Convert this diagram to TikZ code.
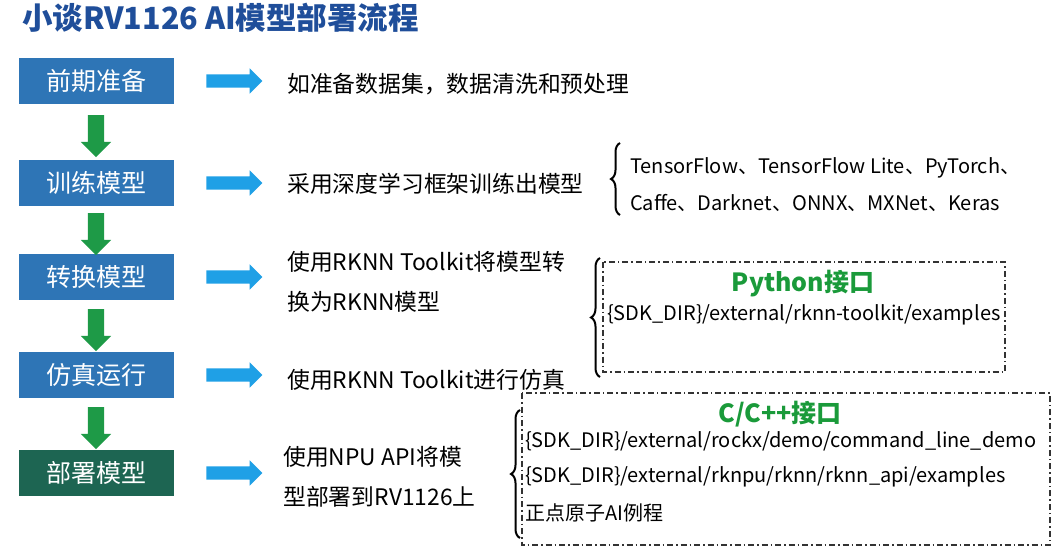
\documentclass[tikz,border=0pt]{standalone}
\usepackage{fontspec}
\setmainfont{Noto Sans CJK SC}
\usetikzlibrary{shapes.arrows,decorations.pathreplacing,calc}
\definecolor{tblue}{HTML}{1F4E9A}
\definecolor{bblue}{HTML}{2E75B6}
\definecolor{dteal}{HTML}{1D6552}
\definecolor{garrow}{HTML}{1E9A47}
\definecolor{larrow}{HTML}{1FA0E6}
\definecolor{gtext}{HTML}{1A9A3A}
\tikzset{
 stepbox/.style={draw=none,fill=bblue,minimum width=155pt,minimum height=46pt,text=white,font=\fontsize{25}{25}\selectfont,inner sep=0pt},
 rarrow/.style={single arrow,fill=larrow,draw=none,text height=13pt,text depth=0pt,single arrow head extend=6pt,minimum height=56pt,inner sep=0pt},
 darrow/.style={single arrow,fill=garrow,draw=none,rotate=-90,text height=16pt,text depth=0pt,single arrow head extend=7pt,minimum height=42pt,inner sep=0pt},
 desc/.style={anchor=west,font=\fontsize{22.8}{40}\selectfont,align=left,inner sep=0pt},
 small/.style={anchor=west,font=\fontsize{20}{20}\selectfont,inner sep=0pt},
 brace/.style={draw=black,line width=2pt,decorate,decoration={brace,amplitude=9pt}},
 gt/.style={text=gtext,font=\fontsize{25}{25}\selectfont\bfseries,inner sep=0pt},
 dbox/.style={dash pattern=on 6pt off 3pt on 1.5pt off 3pt,line width=1.2pt,black!80}
}
\begin{document}
\begin{tikzpicture}[x=1pt,y=-1pt]
\useasboundingbox (0,0) rectangle (1062,554);
\node[anchor=west,text=tblue,font=\fontsize{30.5}{30.5}\selectfont\bfseries,inner sep=0pt] (title) at (22,18) {小谈RV1126 AI模型部署流程};
\node[stepbox] (s1) at (96,81) {前期准备};
\node[stepbox] (s2) at (96,183) {训练模型};
\node[stepbox] (s3) at (96,277) {转换模型};
\node[stepbox] (s4) at (96,375) {仿真运行};
\node[stepbox,fill=dteal] (s5) at (96,473) {部署模型};
\foreach \a/\b in {s1/s2,s2/s3,s3/s4,s4/s5}{
 \node[darrow] (d\a) at ($(\a.south)!0.5!(\b.north)$) {};}
\node[rarrow] (r1) at (231,81) {};
\node[rarrow] (r2) at (231,183) {};
\node[rarrow] (r3) at (231,277) {};
\node[rarrow] (r4) at (231,375) {};
\node[rarrow] (r5) at (231,473) {};
\node[desc] (t1) at (287,84) {如准备数据集，数据清洗和预处理};
\node[desc] (t2) at (287,184) {采用深度学习框架训练出模型};
\node[desc] (t3) at (287,282) {使用RKNN Toolkit将模型转\\换为RKNN模型};
\node[desc] (t4) at (287,380) {使用RKNN Toolkit进行仿真};
\node[desc] (t5) at (283,477) {使用NPU API将模\\型部署到RV1126上};
\draw[brace] (620,215) -- (620,143);
\node[small] (f1) at (630,168) {TensorFlow、TensorFlow Lite、PyTorch、};
\node[small] (f2) at (630,203) {Caffe、Darknet、ONNX、MXNet、Keras};
\draw[brace] (600,377) -- (600,258);
\draw[dbox] (603,262) rectangle (1005,372);
\node[gt] (py) at (803,284) {Python接口};
\node[small] (p1) at (607,315) {\{SDK\_DIR\}/external/rknn-toolkit/examples};
\draw[brace] (520,538) -- (520,410);
\draw[dbox] (522,393) rectangle (1050,545);
\node[gt] (cc) at (780,414) {C/C++接口};
\node[small] (c1) at (525,441) {\{SDK\_DIR\}/external/rockx/demo/command\_line\_demo};
\node[small] (c2) at (525,477) {\{SDK\_DIR\}/external/rknpu/rknn/rknn\_api/examples};
\node[small] (c3) at (525,513) {正点原子AI例程};
\end{tikzpicture}
\end{document}
